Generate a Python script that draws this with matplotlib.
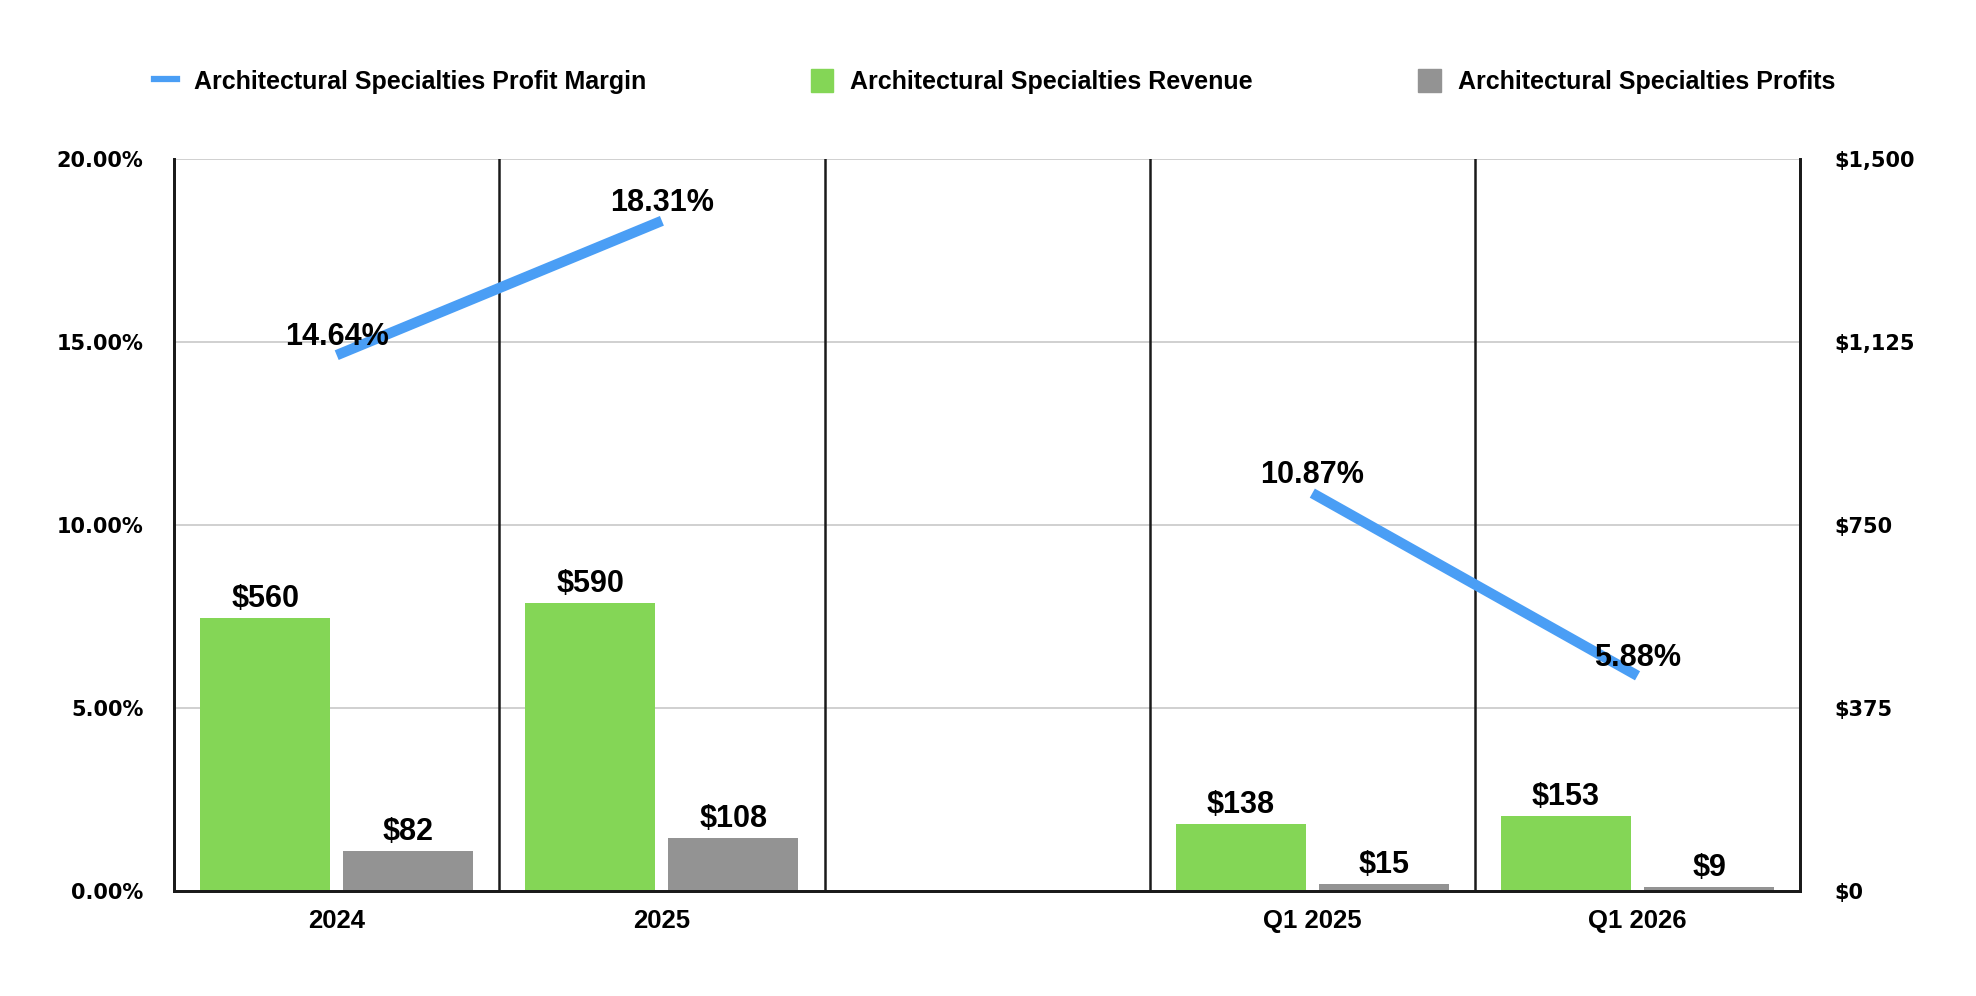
import numpy as np
import matplotlib
matplotlib.use("Agg")
import matplotlib.pyplot as plt
from matplotlib.lines import Line2D
from matplotlib.patches import Patch

categories = ["2024", "2025", "", "Q1 2025", "Q1 2026"]
margin = [14.64, 18.31, np.nan, 10.87, 5.88]
revenue = [560, 590, np.nan, 138, 153]
profits = [82, 108, np.nan, 15, 9]

margin_labels = ["14.64%", "18.31%", "", "10.87%", "5.88%"]
left_ticks = [0, 5, 10, 15, 20]
right_ticks = [0, 375, 750, 1125, 1500]

blue = "#4A9EF5"
green = "#84D656"
grey = "#939393"
narrow = ["Liberation Sans", "DejaVu Sans"]

fig = plt.figure(figsize=(19.76, 9.96), dpi=100)
ax = fig.add_axes([0.0881, 0.1054, 0.8229, 0.735])
ax2 = ax.twinx()

x = np.arange(len(categories))
w = 0.4
b1 = ax2.bar(x - 0.22, revenue, w, color=green, zorder=2)
b2 = ax2.bar(x + 0.22, profits, w, color=grey, zorder=2)
ax2.set_ylim(0, 1500)
ax2.set_yticks(right_ticks)
ax2.set_yticklabels(["${:,}".format(v) for v in right_ticks])
ax2.yaxis.grid(True, color="#c8c8c8", lw=1.2, zorder=0)
ax2.set_axisbelow(True)

for bars, vals in [(b1, revenue), (b2, profits)]:
    for r, v in zip(bars, vals):
        if np.isnan(v):
            continue
        ax2.annotate("${:,}".format(int(v)), (r.get_x() + r.get_width() / 2, v),
                     xytext=(0, 8), textcoords="offset points", ha="center", va="baseline",
                     fontsize=22, fontweight="bold", family=narrow)

# margin line on top of bars
ax.set_zorder(ax2.get_zorder() + 1)
ax.patch.set_visible(False)
ax.plot(x, margin, color=blue, lw=7.5, solid_capstyle="butt", zorder=3)
for xi, m, lab in zip(x, margin, margin_labels):
    if np.isnan(m):
        continue
    ax.annotate(lab, (xi, m), xytext=(0, 7), textcoords="offset points",
                ha="center", va="baseline", fontsize=22, fontweight="bold", family=narrow, zorder=4)

ax.set_ylim(0, 20)
ax.set_yticks(left_ticks)
ax.set_yticklabels(["{:.2f}%".format(v) for v in left_ticks])
ax.set_xlim(-0.5, len(categories) - 0.5)
ax.set_xticks(x)
ax.set_xticklabels(categories)
for sep in np.arange(0.5, len(categories) - 0.5, 1):
    ax.axvline(sep, color="#1a1a1a", lw=1.8, zorder=1)

for a in (ax, ax2):
    a.spines["top"].set_visible(False)
    for s in ("left", "right", "bottom"):
        a.spines[s].set_color("#1a1a1a")
        a.spines[s].set_linewidth(2)
    a.tick_params(length=0)

ax.tick_params(axis="y", pad=22, labelsize=15)
ax2.tick_params(axis="y", pad=25, labelsize=15)
for t in ax.get_yticklabels() + ax2.get_yticklabels():
    t.set_fontweight("bold")
ax.tick_params(axis="x", pad=13)
for t in ax.get_xticklabels():
    t.set_fontweight("bold")
    t.set_fontsize(18.5)
    t.set_family(narrow)

handles = [Line2D([0], [0], color=blue, lw=4.5),
           Patch(color=green), Patch(color=grey)]
labels = ["Architectural Specialties Profit Margin",
          "Architectural Specialties Revenue",
          "Architectural Specialties Profits"]
fig.legend(handles, labels, loc="center left", bbox_to_anchor=(0.078, 0.918), ncol=3,
           frameon=False, columnspacing=6.6, handlelength=0.9, handleheight=1.0,
           handletextpad=0.68, borderpad=0, borderaxespad=0,
           prop={"family": narrow, "weight": "bold", "size": 18})

fig.savefig("out.png", dpi=100)
